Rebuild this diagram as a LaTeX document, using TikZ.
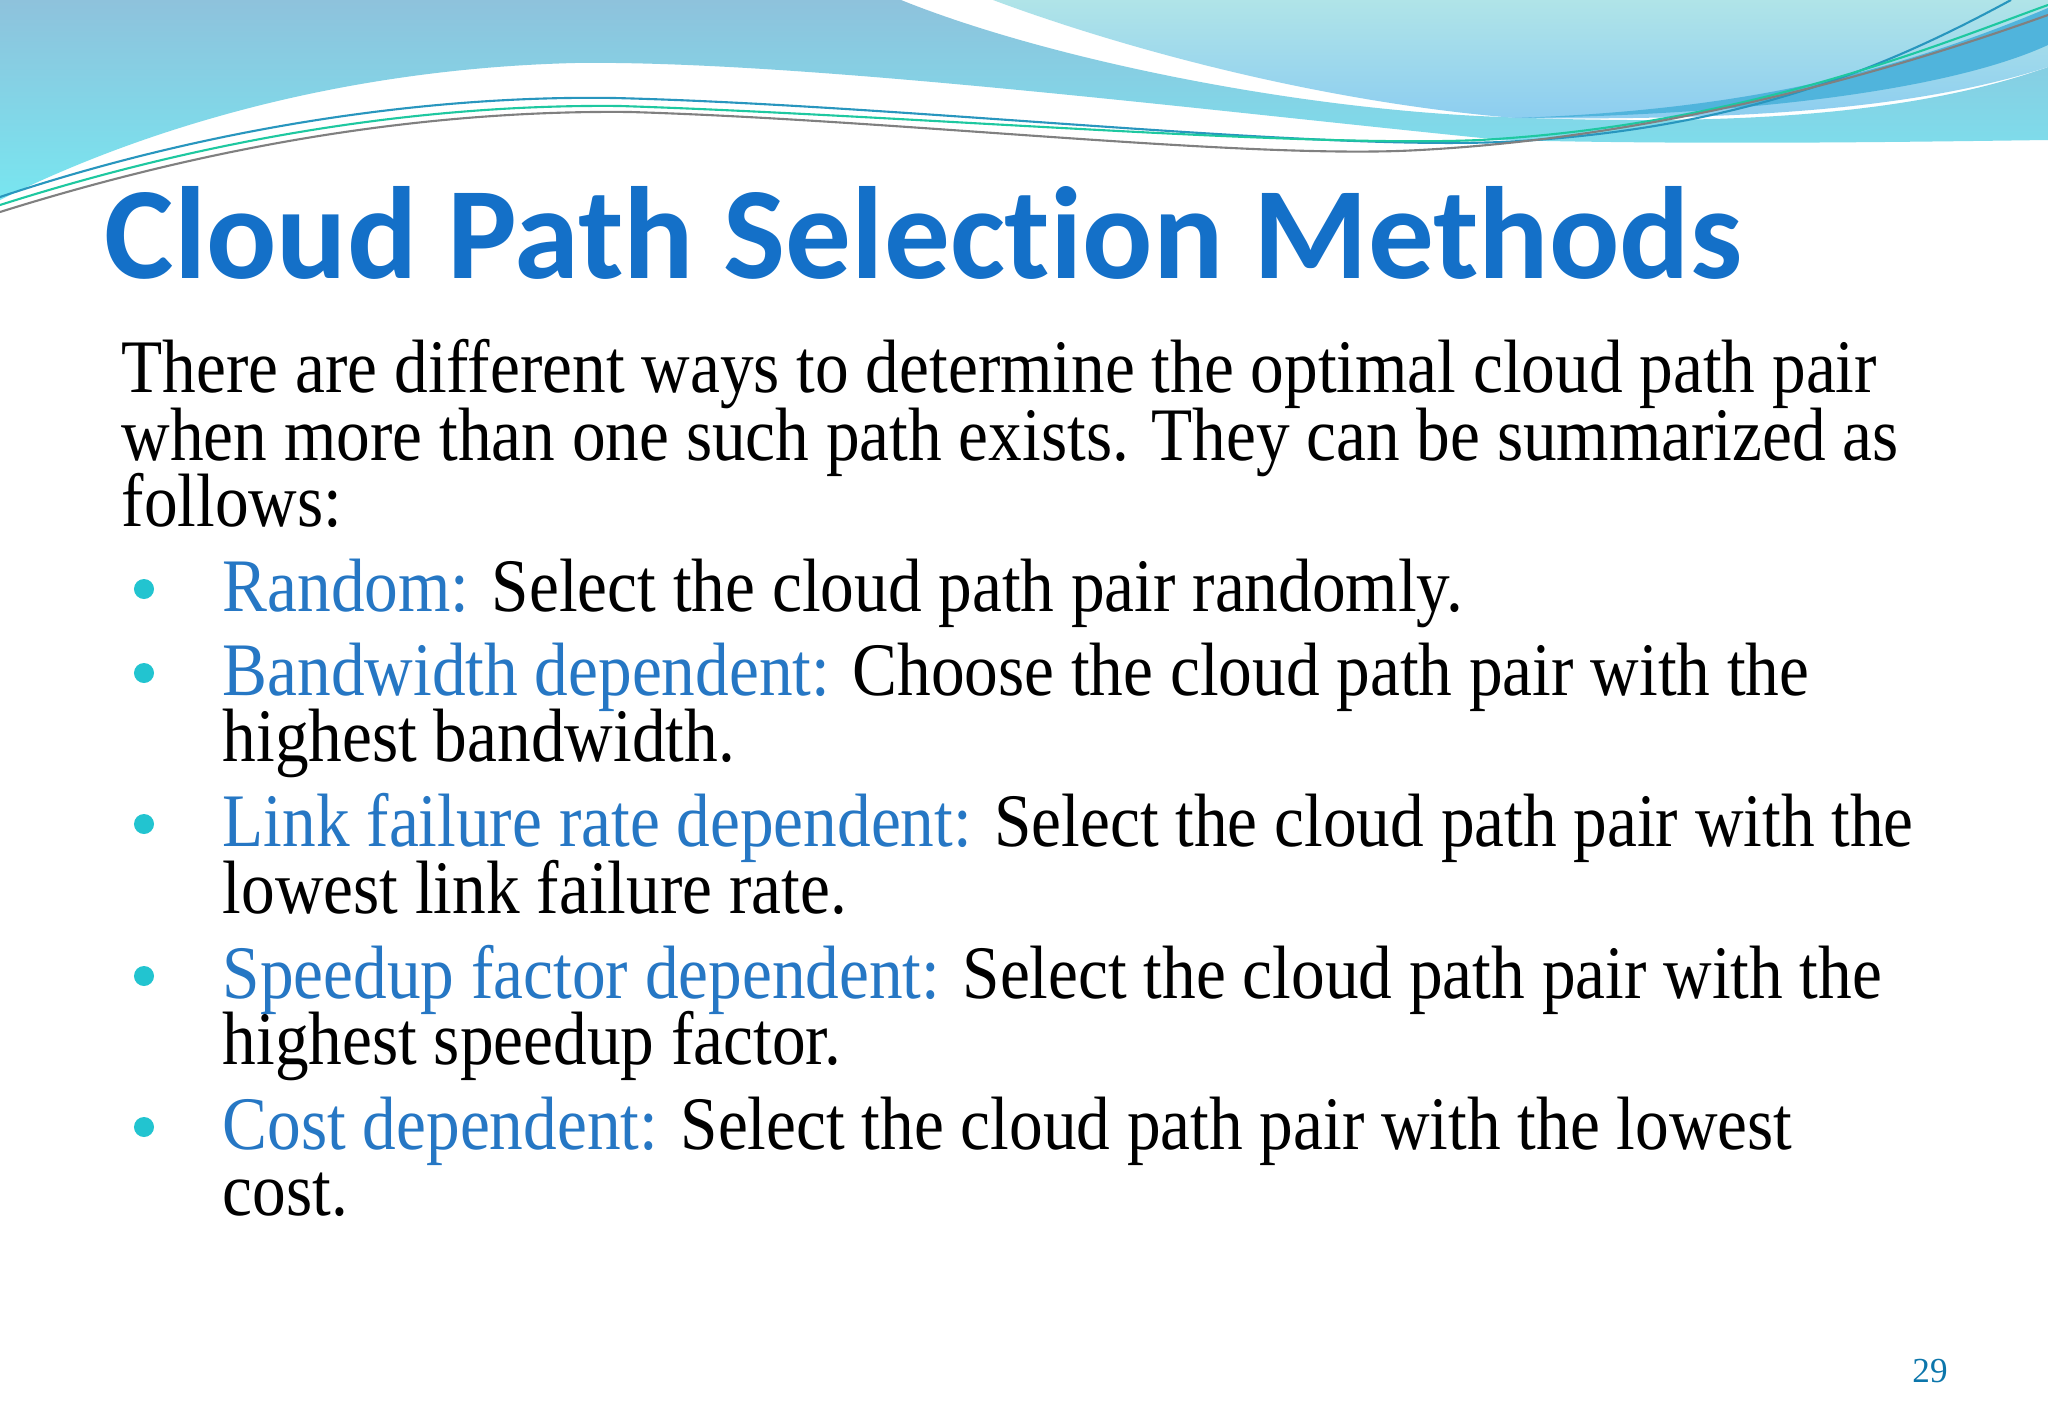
\documentclass[tikz,border=0pt]{standalone}
\usepackage{fontspec}
\setmainfont{Liberation Serif}
\newfontfamily\titlefont[Ligatures={NoCommon}]{Carlito}
\definecolor{ttl}{HTML}{1470C8}
\definecolor{term}{HTML}{2677C4}
\definecolor{bul}{HTML}{22C4D0}
\definecolor{bandtop}{RGB}{142,194,220}
\definecolor{bandbot}{RGB}{120,230,240}
\definecolor{lighttop}{RGB}{176,228,232}
\definecolor{lightbot}{RGB}{140,205,240}
\definecolor{darkband}{RGB}{80,180,220}
\definecolor{lineA}{RGB}{40,150,190}
\definecolor{lineB}{RGB}{30,200,160}
\newcommand{\sq}[1]{\scalebox{0.89}[1]{#1}}
\begin{document}
\begin{tikzpicture}[x=0.01cm,y=-0.01cm,
  body/.style={anchor=base west,inner sep=0,font=\fontsize{21.5}{26}\selectfont},
  dot/.style={circle,fill=bul,inner sep=0,minimum size=0.2cm}]
\useasboundingbox (0,0) rectangle (2048,1418);
\fill[white] (0,0) rectangle (2048,1418);
\shade[top color=bandtop, bottom color=bandbot]
 (0,0) -- (901,0) .. controls (1050,60) and (1300,110) .. (1502,117)
 .. controls (1700,125) and (1900,120) .. (2048,67) -- (2048,140)
 .. controls (1900,142) and (1700,145) .. (1502,140)
 .. controls (1200,110) and (800,60) .. (575,63)
 .. controls (300,70) and (100,150) .. (0,200) -- cycle;
\shade[top color=lighttop, bottom color=lightbot]
 (993,0) -- (2048,0) -- (2048,67) .. controls (1900,115) and (1700,120) .. (1515,118)
 .. controls (1300,100) and (1100,40) .. (993,0) -- cycle;
\fill[darkband] (2048,8) .. controls (1900,70) and (1750,110) .. (1515,118)
 .. controls (1750,115) and (1950,90) .. (2048,45) -- cycle;
\draw[lineA,line width=0.6pt] (0,197) .. controls (200,130) and (420,95) .. (614,98) .. controls (900,105) and (1300,150) .. (1502,142) .. controls (1750,130) and (1900,60) .. (2011,0);
\draw[lineB,line width=0.6pt] (0,205) .. controls (220,135) and (430,104) .. (620,106) .. controls (900,115) and (1300,148) .. (1480,140) .. controls (1750,125) and (1950,40) .. (2048,5);
\draw[gray,line width=0.6pt] (0,212) .. controls (230,140) and (440,110) .. (630,112) .. controls (900,120) and (1250,160) .. (1420,150) .. controls (1700,135) and (1950,50) .. (2048,15);
\node[anchor=base west,inner sep=0,text=ttl,font=\titlefont\bfseries\fontsize{37.3}{44}\selectfont] (title) at (104,278) {Cloud Path Selection Methods};
\node[body] (l1) at (121,392) {\sq{There are different ways to determine the optimal cloud path pair}};
\node[body] (l2) at (121,460) {\sq{when more than one such path exists. They can be summarized as}};
\node[body] (l3) at (121,526) {\sq{follows:}};
\node[body] (b1) at (222,611) {\sq{\textcolor{term}{Random:} Select the cloud path pair randomly.}};
\node[body] (b2) at (222,695) {\sq{\textcolor{term}{Bandwidth dependent:} Choose the cloud path pair with the}};
\node[body] (b2c) at (222,761) {\sq{highest bandwidth.}};
\node[body] (b3) at (222,846) {\sq{\textcolor{term}{Link failure rate dependent:} Select the cloud path pair with the}};
\node[body] (b3c) at (222,913) {\sq{lowest link failure rate.}};
\node[body] (b4) at (222,998) {\sq{\textcolor{term}{Speedup factor dependent:} Select the cloud path pair with the}};
\node[body] (b4c) at (222,1064) {\sq{highest speedup factor.}};
\node[body] (b5) at (222,1149) {\sq{\textcolor{term}{Cost dependent:} Select the cloud path pair with the lowest}};
\node[body] (b5c) at (222,1215) {\sq{cost.}};
\foreach \y [count=\i] in {611,695,846,998,1149} \node[dot] (d\i) at (144,\y-22) {};
\node[anchor=base,inner sep=0,text=ttl!60!teal,font=\fontsize{10}{12}\selectfont] (pg) at (1930,1382) {29};
\end{tikzpicture}
\end{document}
